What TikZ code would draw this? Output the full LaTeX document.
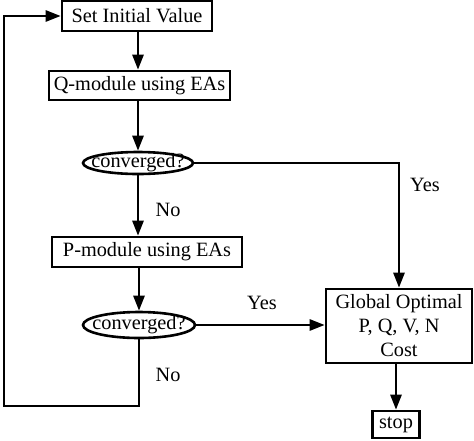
\documentclass[tikz,border=0pt]{standalone}
\usepackage{fontspec}
\setmainfont{Liberation Serif}
\usetikzlibrary{arrows.meta}
\begin{document}
\begin{tikzpicture}[x=1pt,y=-1pt,
  line width=2.6pt,
  every node/.style={font=\fontsize{20.3}{24}\selectfont},
  box/.style={draw, rectangle, inner sep=0pt, align=center},
  oval/.style={rectangle, inner sep=0pt, minimum width=110pt, minimum height=22pt},
  arr/.style={-{Triangle[length=15pt,width=11pt]}},
  lbl/.style={inner sep=0pt}]
\useasboundingbox (0,0) rectangle (474,440);
\node[box, minimum width=150pt, minimum height=30pt] (set) at (137,16) {Set Initial Value};
\node[box, minimum width=181pt, minimum height=29pt] (q) at (139.5,85.5) {Q-module using EAs};
\node[oval] (c1) at (138,163) {converged?};
\draw (c1.center) ellipse [x radius=55pt, y radius=11pt];
\node[box, minimum width=190pt, minimum height=30pt] (p) at (147,252) {P-module using EAs};
\node[oval, minimum width=112pt, minimum height=26pt] (c2) at (139,325) {converged?};
\draw (c2.center) ellipse [x radius=56pt, y radius=13pt];
\node[box, minimum width=146pt, minimum height=74pt] (g) at (399,326) {Global Optimal\\P, Q, V, N\\Cost};
\node[box, minimum width=47pt, minimum height=27pt] (stop) at (396,424.5) {stop};
\coordinate (fb) at (4,406);
\draw[arr] (set.south -| 138,0) -- (q.north -| 138,0);
\draw[arr] (q.south -| 138,0) -- (c1.north);
\draw[arr] (c1.south) -- (c1.south |- p.north);
\draw[arr] (c2.south |- p.south) -- (c2.north);
\draw[arr] (c2.south) |- (fb) |- (set.west);
\draw[arr] (c1.east) -| (g.north);
\draw[arr] (c2.east) -- (c2.east -| g.west);
\draw[arr] (g.south -| stop.north) -- (stop.north);
\node[lbl] (no1) at (168,210) {No};
\node[lbl] (no2) at (168,375) {No};
\node[lbl] (yes1) at (425,185) {Yes};
\node[lbl] (yes2) at (262,303) {Yes};
\end{tikzpicture}
\end{document}
